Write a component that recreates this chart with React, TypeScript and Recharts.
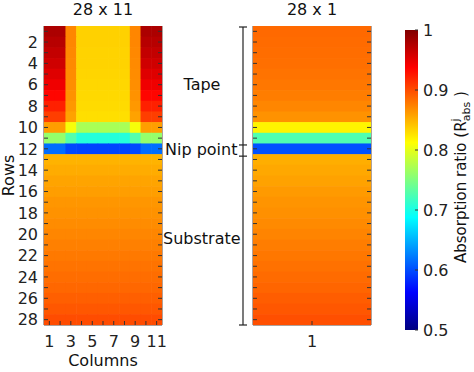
import React from "react";
import { ScatterChart, Scatter, XAxis, YAxis, BarChart, Bar } from "recharts";

// absorption ratio, rows 1-9 (tape) per column group
const tapeEdge = [0.978, 0.973, 0.967, 0.961, 0.953, 0.945, 0.935, 0.922, 0.907]; // cols 1-2, 10-11
const tapeShoulder = [0.872, 0.872, 0.871, 0.870, 0.869, 0.868, 0.866, 0.863, 0.858]; // cols 3, 9
const tapeCentre = [0.835, 0.835, 0.834, 0.834, 0.833, 0.832, 0.831, 0.830, 0.828]; // cols 4-8
// rows 10-12 around the nip point, one value per column
const row10 = [0.860, 0.860, 0.808, 0.770, 0.770, 0.770, 0.770, 0.770, 0.808, 0.860, 0.860];
const row11 = [0.760, 0.760, 0.728, 0.705, 0.705, 0.705, 0.705, 0.705, 0.728, 0.760, 0.760];
const row12 = [0.616, 0.616, 0.598, 0.596, 0.596, 0.596, 0.596, 0.596, 0.598, 0.616, 0.616];
// rows 13-28, same across all columns
const substrate = [0.850, 0.853, 0.857, 0.860, 0.864, 0.866, 0.869, 0.872, 0.875, 0.878, 0.881, 0.884, 0.887, 0.891, 0.895, 0.900];

// 28 x 1 map
const avgTape = [0.886, 0.885, 0.884, 0.883, 0.881, 0.879, 0.876, 0.872, 0.866];
const avgNip = [0.818, 0.726, 0.602];
const avgSubstrate = [0.852, 0.855, 0.858, 0.862, 0.865, 0.867, 0.870, 0.873, 0.876, 0.879, 0.882, 0.885, 0.888, 0.892, 0.895, 0.899];

const columns = [1, 2, 3, 4, 5, 6, 7, 8, 9, 10, 11];
const rows = Array.from({ length: 28 }, (_, i) => i + 1);
const colLabels = [1, 3, 5, 7, 9, 11];
const rowLabels = [2, 4, 6, 8, 10, 12, 14, 16, 18, 20, 22, 24, 26, 28];
const cbTicks = [0.5, 0.6, 0.7, 0.8, 0.9, 1];
const colGroup = ["e", "e", "s", "c", "c", "c", "c", "c", "s", "e", "e"];

const tapeBy: Record<string, number[]> = { e: tapeEdge, s: tapeShoulder, c: tapeCentre };
const nipRows = [row10, row11, row12];

const fullCells = rows.flatMap((r) =>
  columns.map((c, ci) => ({
    col: c,
    row: r,
    v: r <= 9 ? tapeBy[colGroup[ci]][r - 1] : r <= 12 ? nipRows[r - 10][ci] : substrate[r - 13],
  }))
);
const avgCells = rows.map((r) => ({
  col: 1,
  row: r,
  v: r <= 9 ? avgTape[r - 1] : r <= 12 ? avgNip[r - 10] : avgSubstrate[r - 13],
}));

const FONT = "DejaVu Sans";
const FRAME = "#5e4538";
const TICK = "#333";
const PLOT_W = 118;
const PLOT_H = 299;
const TOP = 26;
const YW = 44;
const RW = 8;
const CH_W = YW + PLOT_W + RW;

const clamp = (x: number) => Math.max(0, Math.min(1, x));
const jet = (v: number) => {
  const t = clamp((v - 0.5) / 0.5);
  const r = clamp(1.5 - Math.abs(4 * t - 3));
  const g = clamp(1.5 - Math.abs(4 * t - 2));
  const b = clamp(1.5 - Math.abs(4 * t - 1));
  return `rgb(${Math.round(r * 255)},${Math.round(g * 255)},${Math.round(b * 255)})`;
};

const cellShape = (nCols: number) => (p: any) => {
  const w = PLOT_W / nCols;
  const h = PLOT_H / rows.length;
  return <rect x={p.cx - w / 2} y={p.cy - h / 2} width={w + 0.6} height={h + 0.6} fill={jet(p.payload.v)} />;
};

const bottomTick = (labels: number[]) => (p: any) => (
  <g>
    <line x1={p.x} y1={p.y} x2={p.x} y2={p.y - 4} stroke={TICK} />
    {labels.includes(p.payload.value) && (
      <text x={p.x} y={p.y + 22} textAnchor="middle" fontSize={16} fontFamily={FONT} fill="#222">
        {p.payload.value}
      </text>
    )}
  </g>
);
const topTick = (p: any) => <line x1={p.x} y1={p.y} x2={p.x} y2={p.y + 4} stroke={TICK} />;
const leftTick = (labels: number[]) => (p: any) => (
  <g>
    <line x1={p.x} y1={p.y} x2={p.x + 4} y2={p.y} stroke={TICK} />
    {labels.includes(p.payload.value) && (
      <text x={p.x - 6} y={p.y} dy="0.36em" textAnchor="end" fontSize={16} fontFamily={FONT} fill="#222">
        {p.payload.value}
      </text>
    )}
  </g>
);
const rightTick = (p: any) => <line x1={p.x} y1={p.y} x2={p.x - 4} y2={p.y} stroke={TICK} />;
const cbTick = (p: any) => (
  <g>
    <line x1={p.x} y1={p.y} x2={p.x - 3} y2={p.y} stroke={TICK} />
    <text x={p.x + 5} y={p.y} dy="0.36em" textAnchor="start" fontSize={16} fontFamily={FONT} fill="#222">
      {p.payload.value}
    </text>
  </g>
);

const HeatMap = ({ cells, cols, xLabels, yLabels }: any) => (
  <ScatterChart width={CH_W} height={372} margin={{ top: TOP, right: 0, bottom: 0, left: 0 }}>
    <Scatter data={cells} dataKey="v" shape={cellShape(cols.length)} isAnimationActive={false} />
    <XAxis dataKey="col" type="number" domain={[0.5, cols.length + 0.5]} ticks={cols} interval={0}
      height={372 - TOP - PLOT_H} tickSize={0} tickMargin={0} axisLine={{ stroke: FRAME }} tick={bottomTick(xLabels)} allowDataOverflow />
    <XAxis xAxisId="top" orientation="top" type="number" domain={[0.5, cols.length + 0.5]} ticks={cols} interval={0}
      height={0} tickSize={0} tickMargin={0} axisLine={{ stroke: FRAME }} tick={topTick} allowDataOverflow />
    <YAxis dataKey="row" type="number" reversed domain={[0.5, 28.5]} ticks={rows} interval={0}
      width={YW} tickSize={0} tickMargin={0} axisLine={{ stroke: FRAME }} tick={leftTick(yLabels)} allowDataOverflow />
    <YAxis yAxisId="right" orientation="right" type="number" reversed domain={[0.5, 28.5]} ticks={rows} interval={0}
      width={RW} tickSize={0} tickMargin={0} axisLine={{ stroke: FRAME }} tick={rightTick} allowDataOverflow />
  </ScatterChart>
);

const cbData = [{ name: "cb", span: [cbTicks[0], cbTicks[cbTicks.length - 1]] }];

export default function App() {
  const rowH = PLOT_H / rows.length;
  const bx = 243;
  const nipTop = TOP + 11 * rowH + 1.5;
  const nipBot = TOP + 12 * rowH + 2;
  return (
    <div style={{ position: "fixed", left: 0, top: 0, width: 474, height: 372, background: "#fff", fontFamily: FONT, overflow: "hidden" }}>
      <div style={{ position: "absolute", left: 0, top: 0 }}>
        <HeatMap cells={fullCells} cols={columns} xLabels={colLabels} yLabels={rowLabels} />
      </div>
      <div style={{ position: "absolute", left: 253 - YW, top: 0 }}>
        <HeatMap cells={avgCells} cols={[1]} xLabels={[1]} yLabels={[]} />
      </div>
      <div style={{ position: "absolute", left: 405, top: 0 }}>
        <BarChart width={13 + 45} height={372} data={cbData} margin={{ top: 30, right: 0, bottom: 42, left: 0 }} barCategoryGap={0}>
          <defs>
            <linearGradient id="jet" x1="0" y1="0" x2="0" y2="1">
              <stop offset="0" stopColor="#800000" />
              <stop offset="0.125" stopColor="#ff0000" />
              <stop offset="0.375" stopColor="#ffff00" />
              <stop offset="0.625" stopColor="#00ffff" />
              <stop offset="0.875" stopColor="#0000ff" />
              <stop offset="1" stopColor="#000080" />
            </linearGradient>
          </defs>
          <XAxis dataKey="name" hide />
          <YAxis orientation="right" type="number" domain={[cbTicks[0], cbTicks[cbTicks.length - 1]]} ticks={cbTicks} interval={0}
            width={45} tickSize={0} tickMargin={0} axisLine={false} tick={cbTick} allowDataOverflow />
          <Bar dataKey="span" fill="url(#jet)" isAnimationActive={false} />
        </BarChart>
      </div>
      <svg width={474} height={372} style={{ position: "absolute", left: 0, top: 0, pointerEvents: "none" }} fontFamily={FONT} fill="#111">
        <text x={103} y={15} textAnchor="middle" fontSize={16}>28 x 11</text>
        <text x={312} y={15} textAnchor="middle" fontSize={16}>28 x 1</text>
        <text x={103} y={366} textAnchor="middle" fontSize={16}>Columns</text>
        <text transform={`translate(14,${TOP + PLOT_H / 2}) rotate(-90)`} textAnchor="middle" fontSize={16}>Rows</text>
        <text x={202} y={90} textAnchor="middle" fontSize={16}>Tape</text>
        <text x={165} y={155} fontSize={16}>Nip point</text>
        <text x={163} y={244} fontSize={16}>Substrate</text>
        <g stroke="#222" strokeWidth={1.2}>
          <line x1={bx} y1={TOP + 1} x2={bx} y2={TOP + PLOT_H} />
          <line x1={bx - 4} y1={TOP + 1} x2={bx + 4} y2={TOP + 1} />
          <line x1={bx - 4} y1={TOP + PLOT_H} x2={bx + 4} y2={TOP + PLOT_H} />
          <line x1={bx - 4} y1={nipTop} x2={bx + 4} y2={nipTop} />
          <line x1={bx - 4} y1={nipBot} x2={bx + 4} y2={nipBot} />
        </g>
        <text transform="translate(466,263) rotate(-90)" fontSize={15}>
          Absorption ratio (R
          <tspan dy={-7} fontSize={11}>j</tspan>
          <tspan dx={-3} dy={11} fontSize={11}>abs</tspan>
          <tspan dy={-4}> )</tspan>
        </text>
      </svg>
    </div>
  );
}
